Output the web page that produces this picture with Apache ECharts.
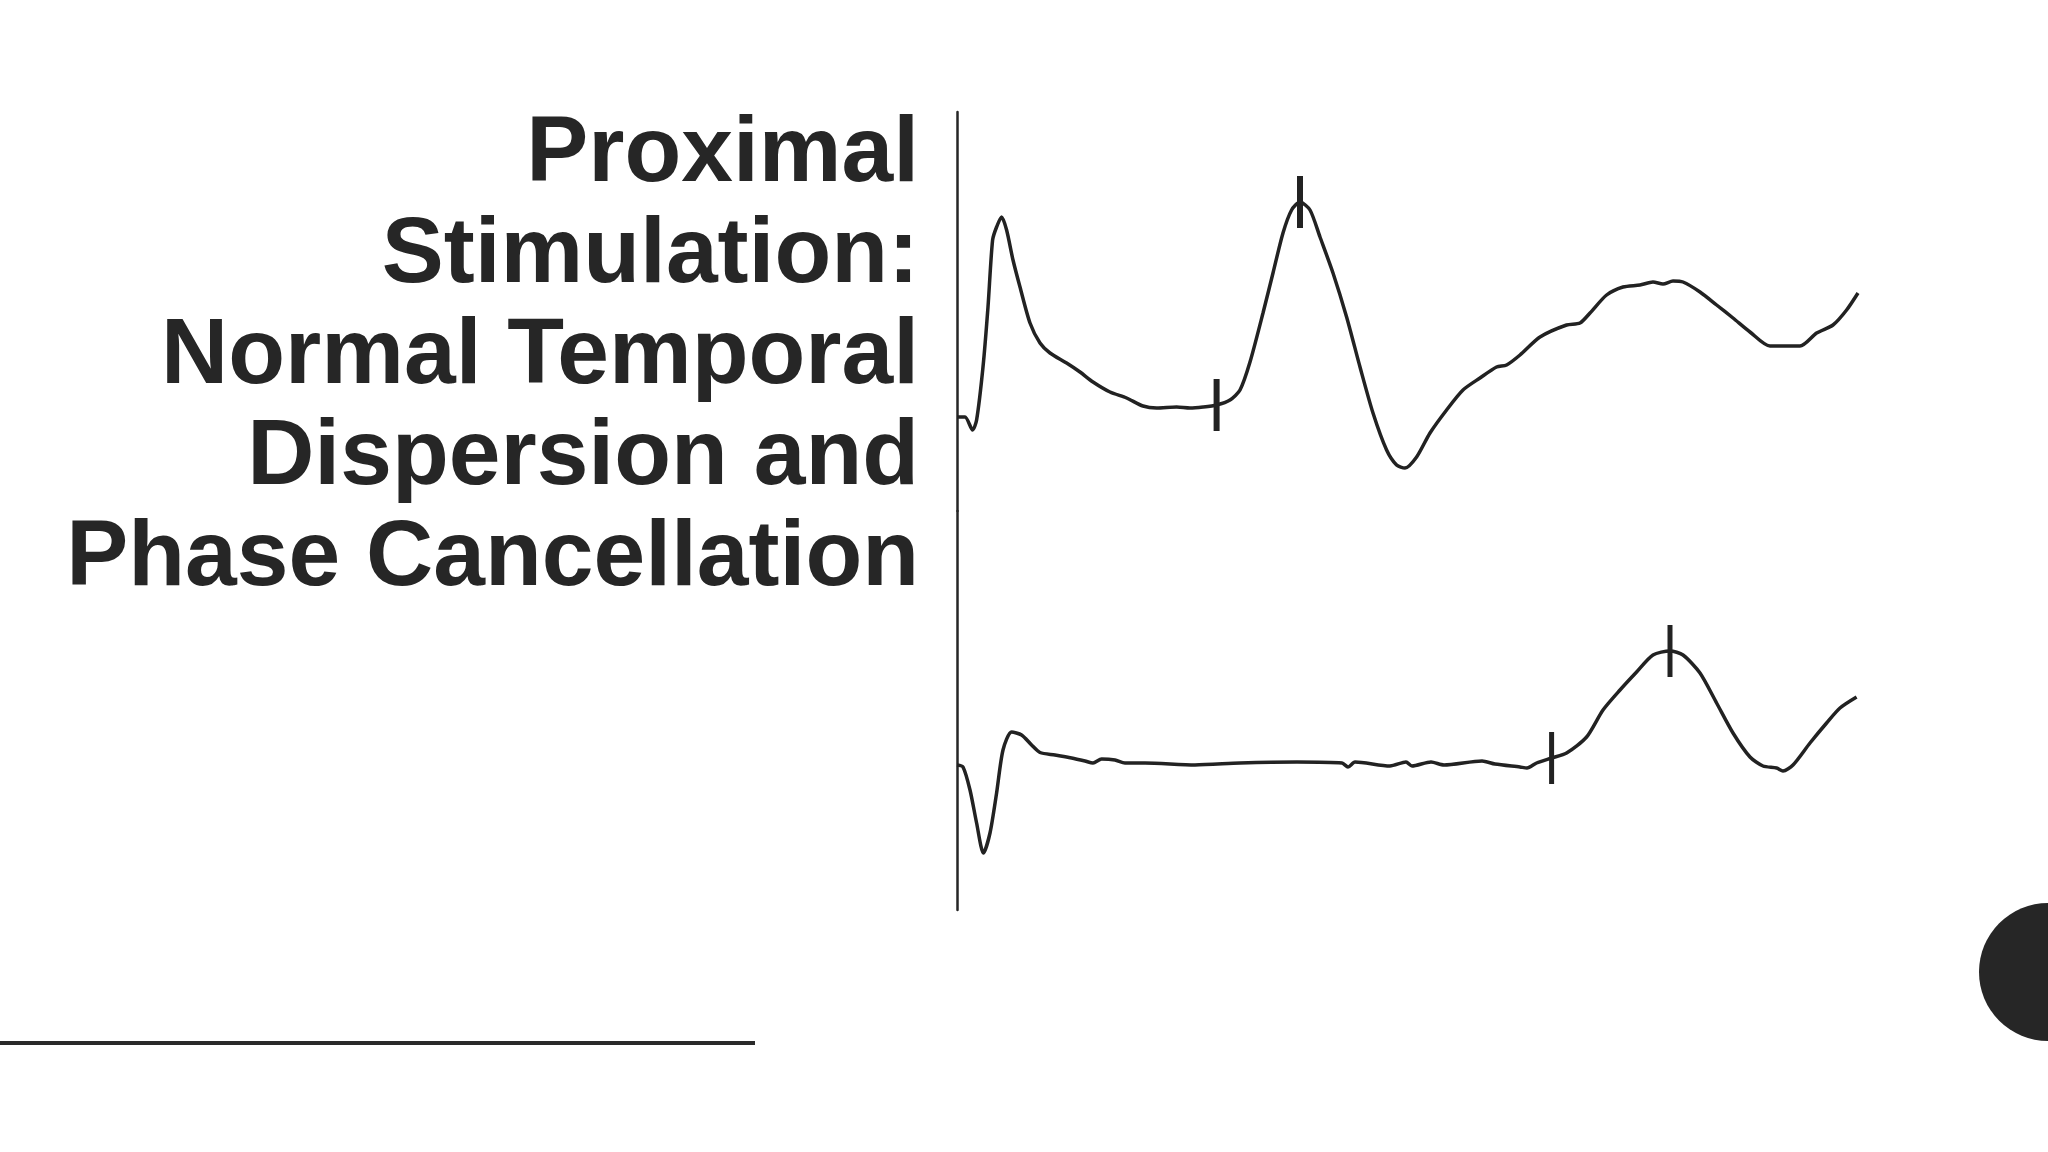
<!DOCTYPE html>
<html>
<head>
<meta charset="utf-8">
<script src="https://cdn.jsdelivr.net/npm/echarts@6/dist/echarts.min.js"></script>
<style>
html,body{margin:0;padding:0;background:#fff;}
#chart{width:2048px;height:1152px;}
</style>
</head>
<body>
<div id="chart"></div>
<script>
// Title lines
const titleLines = ['Proximal', 'Stimulation:', 'Normal Temporal', 'Dispersion and', 'Phase Cancellation'];

// Proximal-stimulation trace (upper): [time ms, amplitude mV]
const upperTrace = [
  [0,0],[0.4,0],[0.78,-0.26],[0.98,-0.06],[1.3,1.0],[1.55,2.2],[1.78,3.54],[1.98,3.8],[2.23,4.0],
  [2.48,3.74],[2.8,3.14],[3.15,2.6],[3.65,1.88],[4.15,1.48],[4.65,1.28],[5.48,1.08],[6.15,0.9],
  [6.8,0.7],[7.65,0.5],[8.48,0.38],[9.3,0.22],[9.98,0.18],[10.98,0.2],[11.65,0.18],[12.3,0.2],
  [12.98,0.24],[13.65,0.34],[14.15,0.54],[14.65,1.1],[15.3,2.08],[15.8,2.88],[16.3,3.68],[16.73,4.14],
  [17.15,4.3],[17.65,4.14],[18.15,3.6],[18.8,2.88],[19.48,2.0],[20.15,1.0],[20.8,0.08],[21.48,-0.66],
  [21.98,-0.96],[22.4,-1.02],[22.98,-0.8],[23.65,-0.32],[24.48,0.14],[25.3,0.54],[26.15,0.78],
  [26.98,1.0],[27.48,1.04],[28.15,1.24],[29.15,1.6],[30.48,1.84],[31.15,1.88],[31.65,2.08],
  [32.48,2.44],[33.3,2.6],[34.15,2.64],[34.8,2.7],[35.3,2.66],[35.8,2.72],[36.3,2.7],[37.15,2.5],
  [37.98,2.24],[38.8,1.98],[39.65,1.7],[40.65,1.42],[42.15,1.42],[42.98,1.68],[43.8,1.84],
  [44.48,2.14],[45.05,2.48]
];
const upperMarkers = [[12.98,0.24],[17.15,4.3]];

// Lower trace: [time ms, amplitude mV]
const lowerTrace = [
  [0,0],[0.3,-0.04],[0.65,-0.5],[0.98,-1.16],[1.32,-1.76],[1.65,-1.36],[1.98,-0.56],[2.3,0.3],
  [2.73,0.66],[3.23,0.6],[3.73,0.4],[4.15,0.25],[4.9,0.2],[5.73,0.14],[6.4,0.08],[6.8,0.04],
  [7.23,0.12],[7.9,0.1],[8.4,0.04],[9.4,0.04],[11.9,0],[14.15,0.04],[17.0,0.06],[19.25,0.04],
  [19.55,-0.04],[19.9,0.06],[21.65,-0.02],[22.45,0.06],[22.75,-0.02],[23.7,0.06],[24.35,0],
  [26.25,0.08],[26.9,0.02],[28.15,-0.04],[28.5,-0.06],[28.98,0.04],[29.73,0.14],[30.48,0.24],
  [31.48,0.56],[32.3,1.1],[33.15,1.5],[33.98,1.86],[34.8,2.2],[35.65,2.28],[36.3,2.2],[37.15,1.84],
  [37.98,1.24],[38.8,0.64],[39.65,0.16],[40.3,-0.02],[40.98,-0.06],[41.3,-0.12],[41.8,0],
  [42.65,0.44],[43.48,0.84],[44.15,1.14],[44.98,1.36]
];
const lowerMarkers = [[29.73,0.14],[35.65,2.28]];

const timeRange = [0, 46];
const upperAmpRange = [-1.88, 6.1];
const lowerAmpRange = [-2.9, 5.08];

const ink = '#222222';
const chart = echarts.init(document.getElementById('chart'), null, {renderer: 'canvas'});

const textElems = titleLines.map((t, i) => ({
  type: 'text',
  style: {
    text: t,
    x: 919,
    y: 155 + i * 101.2,
    textAlign: 'right',
    textVerticalAlign: 'middle',
    verticalAlign: 'middle',
    font: 'bold 93px "Liberation Sans", Arial, sans-serif',
    fill: '#262626'
  }
}));

const yAxisCommon = {
  type: 'value',
  axisLine: {show: true, onZero: false, lineStyle: {color: '#262626', width: 2.5}},
  axisTick: {show: false},
  axisLabel: {show: false},
  splitLine: {show: false}
};
const xAxisCommon = {
  type: 'value', min: timeRange[0], max: timeRange[1], show: false
};

chart.setOption({
  backgroundColor: '#ffffff',
  animation: false,
  grid: [
    {left: 957, top: 112, width: 920, height: 399},
    {left: 957, top: 511, width: 920, height: 399}
  ],
  xAxis: [
    Object.assign({gridIndex: 0}, xAxisCommon),
    Object.assign({gridIndex: 1}, xAxisCommon)
  ],
  yAxis: [
    Object.assign({gridIndex: 0, min: upperAmpRange[0], max: upperAmpRange[1]}, yAxisCommon),
    Object.assign({gridIndex: 1, min: lowerAmpRange[0], max: lowerAmpRange[1]}, yAxisCommon)
  ],
  series: [
    {type: 'line', xAxisIndex: 0, yAxisIndex: 0, data: upperTrace, showSymbol: false, smooth: 0.25,
     lineStyle: {color: ink, width: 3.5}, silent: true},
    {type: 'line', xAxisIndex: 1, yAxisIndex: 1, data: lowerTrace, showSymbol: false, smooth: 0.25,
     lineStyle: {color: ink, width: 3.5}, silent: true},
    {type: 'scatter', xAxisIndex: 0, yAxisIndex: 0, data: upperMarkers, symbol: 'rect',
     symbolSize: [6, 52], itemStyle: {color: ink, opacity: 1}, silent: true},
    {type: 'scatter', xAxisIndex: 1, yAxisIndex: 1, data: lowerMarkers, symbol: 'rect',
     symbolSize: [5, 52], itemStyle: {color: ink, opacity: 1}, silent: true}
  ],
  graphic: textElems.concat([
    {type: 'line', shape: {x1: 0, y1: 1043, x2: 755, y2: 1043}, style: {stroke: '#2a2a2a', lineWidth: 4}},
    {type: 'circle', shape: {cx: 2048, cy: 972, r: 69}, style: {fill: '#262626'}}
  ])
});
</script>
</body>
</html>
